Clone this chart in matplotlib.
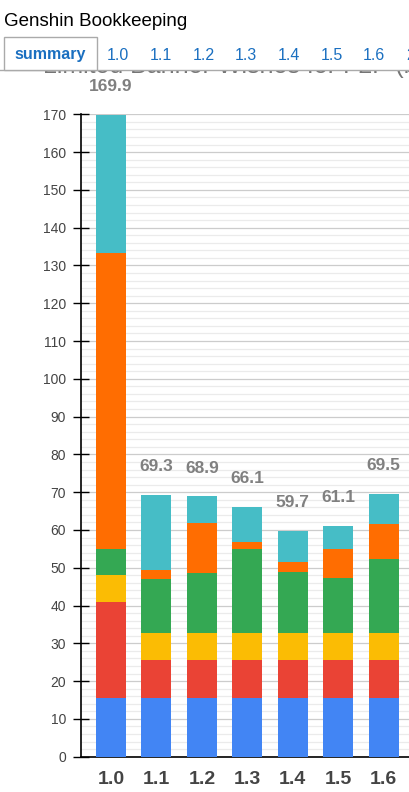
import matplotlib.pyplot as plt
from matplotlib.patches import Rectangle
from matplotlib.ticker import MultipleLocator

plt.rcParams['font.family'] = ['Liberation Sans', 'DejaVu Sans']

W, H = 409, 792

versions = ["1.0", "1.1", "1.2", "1.3", "1.4", "1.5", "1.6"]
tabs = ["1.0", "1.1", "1.2", "1.3", "1.4", "1.5", "1.6", "2.0"]

# stacked segments, bottom to top
seg_blue = [15.6, 15.6, 15.6, 15.6, 15.6, 15.6, 15.6]
seg_red = [25.4, 10.1, 10.1, 10.1, 10.1, 10.1, 10.1]
seg_yellow = [7.0, 7.0, 7.0, 7.0, 7.0, 7.0, 7.0]
seg_green = [6.9, 14.2, 15.9, 22.2, 16.3, 14.7, 19.6]
seg_orange = [78.5, 2.6, 13.3, 1.8, 2.6, 7.5, 9.3]
seg_cyan = [36.5, 19.8, 7.0, 9.4, 8.1, 6.2, 7.9]
totals = [169.9, 69.3, 68.9, 66.1, 59.7, 61.1, 69.5]

segments = [seg_blue, seg_red, seg_yellow, seg_green, seg_orange, seg_cyan]
colors = ["#4285F4", "#EA4335", "#FBBC04", "#34A853", "#FF6D01", "#46BDC6"]


def fx(px):
    return px / W


def fy(py):
    return 1 - py / H


fig = plt.figure(figsize=(W / 100, H / 100), dpi=100)

# chart area
ax_left, ax_bottom, ax_top = 81, 756.7, 114.3
ax = fig.add_axes([fx(ax_left), fy(ax_bottom), 1 - fx(ax_left), (ax_bottom - ax_top) / H])

xs = list(range(len(versions)))
bottom = [0.0] * len(versions)
for vals, c in zip(segments, colors):
    ax.bar(xs, vals, width=0.66, bottom=bottom, color=c, zorder=3, linewidth=0)
    bottom = [b + v for b, v in zip(bottom, vals)]

for x, t in zip(xs, totals):
    ax.annotate(f"{t:.1f}", (x, t), xytext=(0, 15), textcoords="offset points",
                ha="center", va="bottom", fontsize=12.5, fontweight="bold",
                color="#808080", annotation_clip=False, zorder=5)

ax.set_xlim(-0.66, 6.56)
ax.set_ylim(0, 170)
ax.set_xticks(xs)
ax.set_xticklabels(versions, fontsize=14, fontweight="bold", color="#444444")
ax.tick_params(axis="x", length=0, pad=10)
ax.yaxis.set_major_locator(MultipleLocator(10))
ax.yaxis.set_minor_locator(MultipleLocator(2))
ax.tick_params(axis="y", which="major", direction="inout", length=11.5, width=1,
               labelsize=10, labelcolor="#444444", pad=5)
ax.tick_params(axis="y", which="minor", length=0)
ax.grid(axis="y", which="major", color="#cccccc", linewidth=0.9, zorder=0)
ax.grid(axis="y", which="minor", color="#ebebeb", linewidth=0.9, zorder=0)
ax.set_axisbelow(True)
for s in ["top", "right"]:
    ax.spines[s].set_visible(False)
ax.spines["left"].set_color("black")
ax.spines["bottom"].set_color("black")
ax.spines["left"].set_linewidth(1.2)
ax.spines["bottom"].set_linewidth(1.2)

# chart title, mostly hidden behind the tab bar
fig.text(fx(43), fy(73.5), "Limited Banner Wishes for F2P (by version)",
         fontsize=18, color="#757575", va="baseline", ha="left", zorder=1)
fig.patches.append(Rectangle((0, fy(70)), 1, 1 - fy(70), transform=fig.transFigure,
                             facecolor="white", edgecolor="none", zorder=2))

# page header and tabs
fig.text(fx(4), fy(26.5), "Genshin Bookkeeping", fontsize=13.5, color="black",
         va="baseline", ha="left", zorder=4)
fig.add_artist(plt.Line2D([0, 1], [fy(70), fy(70)], color="#aaaaaa", linewidth=1, zorder=4))
fig.patches.append(Rectangle((fx(3.5), fy(69.5)), fx(93), fy(37.5) - fy(69.5),
                             transform=fig.transFigure, facecolor="white",
                             edgecolor="#aaaaaa", linewidth=1, zorder=4))
fig.text(fx(50), fy(59.5), "summary", fontsize=11.5, fontweight="bold", color="#1a6fc0",
         va="baseline", ha="center", zorder=5)
for i, t in enumerate(tabs):
    fig.text(fx(118 + i * 42.7), fy(59.5), t, fontsize=11.5, color="#1a6fc0",
             va="baseline", ha="center", zorder=5)

fig.savefig("out.png", dpi=100)
